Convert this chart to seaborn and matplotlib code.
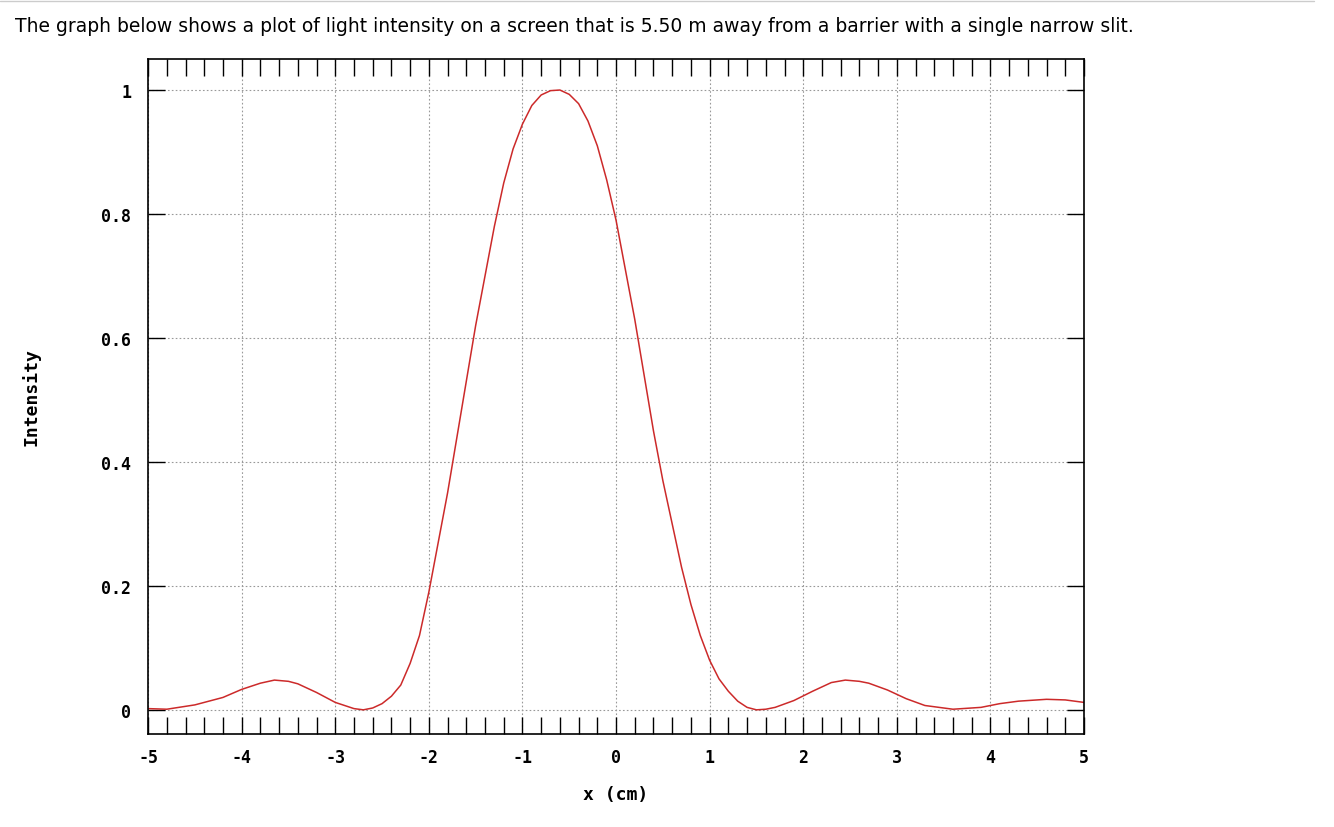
import matplotlib
matplotlib.use("Agg")
import matplotlib.pyplot as plt
import seaborn as sns
import pandas as pd
from matplotlib.ticker import MultipleLocator

# Values
x_cm = [-5.0, -4.8, -4.5, -4.2, -4.0, -3.8, -3.65, -3.5, -3.4, -3.2, -3.0, -2.8, -2.7,
        -2.6, -2.5, -2.4, -2.3, -2.2, -2.1, -2.0, -1.9, -1.8, -1.7, -1.6, -1.5, -1.4,
        -1.3, -1.2, -1.1, -1.0, -0.9, -0.8, -0.7, -0.6, -0.5, -0.4, -0.3, -0.2,
        -0.1, 0.0, 0.1, 0.2, 0.3, 0.4, 0.5, 0.6, 0.7, 0.8, 0.9, 1.0, 1.1, 1.2,
        1.3, 1.4, 1.5, 1.6, 1.7, 1.9, 2.1, 2.3, 2.45, 2.6, 2.7, 2.9, 3.1, 3.3,
        3.6, 3.9, 4.1, 4.3, 4.6, 4.8, 5.0]
intensity = [0.002, 0.001, 0.008, 0.02, 0.033, 0.043, 0.048, 0.046, 0.042, 0.028,
             0.012, 0.002, 0.0, 0.003, 0.01, 0.022, 0.04, 0.075, 0.12, 0.19, 0.27,
             0.35, 0.44, 0.53, 0.62, 0.70, 0.78, 0.85, 0.905, 0.945, 0.975, 0.992,
             0.999, 1.0, 0.993, 0.978, 0.95, 0.91, 0.855, 0.79, 0.71, 0.63, 0.54,
             0.45, 0.37, 0.30, 0.23, 0.17, 0.12, 0.08, 0.05, 0.03, 0.014, 0.004,
             0.0, 0.001, 0.004, 0.015, 0.03, 0.044, 0.048, 0.046, 0.043, 0.032,
             0.018, 0.007, 0.001, 0.004, 0.01, 0.014, 0.017, 0.016, 0.012]
x_ticks = [-5, -4, -3, -2, -1, 0, 1, 2, 3, 4, 5]
y_ticks = [0, 0.2, 0.4, 0.6, 0.8, 1.0]
y_labels = ["0", "0.2", "0.4", "0.6", "0.8", "1"]
title = ("The graph below shows a plot of light intensity on a screen that is "
         "5.50 m away from a barrier with a single narrow slit.")

df = pd.DataFrame({"x": x_cm, "I": intensity})

sns.set_style("white")
plt.rcParams["text.color"] = "black"
fig = plt.figure(figsize=(13.34, 8.28), dpi=100)
ax = fig.add_axes([0.111, 0.1123, 0.7016, 0.8152])

sns.lineplot(data=df, x="x", y="I", ax=ax, color="#cc2a2a", linewidth=1.1)

ax.set_xlim(-5, 5)
ax.set_ylim(-0.039, 1.05)
ax.set_xticks(x_ticks)
ax.set_xticklabels([str(t) for t in x_ticks])
ax.set_yticks(y_ticks)
ax.set_yticklabels(y_labels)
ax.xaxis.set_minor_locator(MultipleLocator(0.2))
ax.grid(True, which="major", color="#999999", linestyle=(0, (1.5, 2)), linewidth=0.8)
ax.tick_params(which="both", direction="in", top=True, bottom=True, left=True,
               right=True, color="black", labelcolor="black")
ax.tick_params(which="major", length=12, width=1)
ax.tick_params(which="minor", length=12, width=1)
ax.tick_params(axis="x", which="major", pad=10)
ax.tick_params(axis="y", which="major", pad=12)
for lab in ax.get_xticklabels() + ax.get_yticklabels():
    lab.set_family("DejaVu Sans Mono")
    lab.set_fontsize(12)
    lab.set_fontweight("bold")
for s in ax.spines.values():
    s.set_color("black")
    s.set_linewidth(1.2)

ax.set_xlabel("x (cm)", family="DejaVu Sans Mono", fontsize=13, fontweight="bold",
              labelpad=14, color="black")
ax.set_ylabel("Intensity", family="DejaVu Sans Mono", fontsize=13, fontweight="bold",
              labelpad=44, color="black")

fig.text(0.011, 0.968, title, fontsize=13.5, family="DejaVu Sans", va="center",
         ha="left", color="black")
fig.add_artist(plt.Line2D([0.0, 0.985], [0.997, 0.997], color="#cccccc", linewidth=1))

fig.savefig("out.png", dpi=100)
